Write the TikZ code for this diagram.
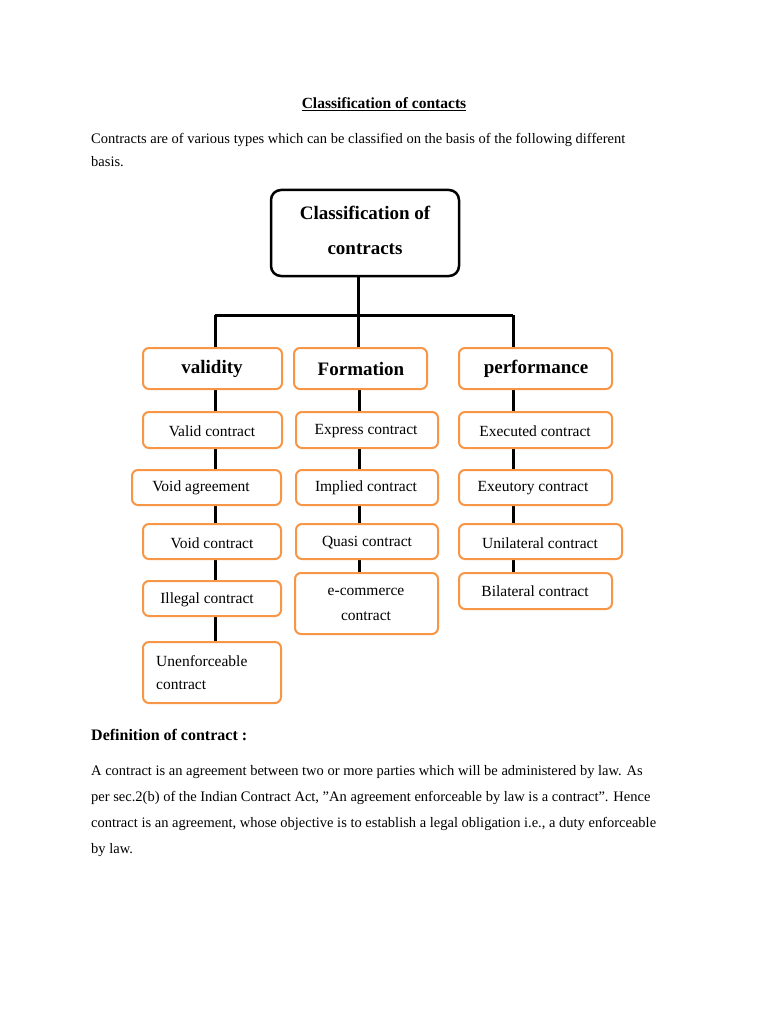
\documentclass[tikz,border=0pt]{standalone}
\usepackage{fontspec}
\setmainfont{Liberation Serif}
\begin{document}
\begin{tikzpicture}[x=1pt,y=-1pt,
  ob/.style={draw=orange!75!red!60!yellow, draw=ocol, line width=2pt, rounded corners=6pt},
  bl/.style={line width=3pt},
  txt/.style={font=\fontsize{14.5}{16}\selectfont, anchor=base west, inner sep=0},
  bt/.style={font=\fontsize{15.5}{18}\selectfont, inner sep=0}]
\definecolor{ocol}{HTML}{F79646}
\useasboundingbox (0,0) rectangle (768,1024);
\node[font=\fontsize{15.5}{18}\selectfont\bfseries, inner sep=0] (title) at (384,104) {\underline{Classification of contacts}};
\node[txt] (i1) at (91,144) {Contracts are of various types which can be classified on the basis of the following different};
\node[txt] (i2) at (91,167) {basis.};
% top
\draw[line width=2.5pt, rounded corners=10pt] (271,190) rectangle (459,276);
\node[font=\fontsize{19}{22}\selectfont\bfseries, inner sep=0] (top) at (365,213) {Classification of};
\node[font=\fontsize{19}{22}\selectfont\bfseries, inner sep=0] (top2) at (365,249) {contracts};
\coordinate (tb) at (358,276);
\coordinate (hm) at (358,315);
\coordinate (hl) at (215,315);
\coordinate (hr) at (513,315);
% connectors
\draw[bl] (tb) -- (hm);
\draw[bl] (hl) -- (hr);
\draw[bl] (hl) -- (215,348);
\draw[bl] (hm) -- (358,348);
\draw[bl] (hr) -- (513,348);
\draw[bl] (215,389) -- (215,412);
\draw[bl] (215,448) -- (215,470);
\draw[bl] (215,505) -- (215,524);
\draw[bl] (215,559) -- (215,581);
\draw[bl] (215,616) -- (215,642);
\draw[bl] (359,389) -- (359,412);
\draw[bl] (359,448) -- (359,470);
\draw[bl] (359,505) -- (359,524);
\draw[bl] (359,559) -- (359,573);
\draw[bl] (513,389) -- (513,412);
\draw[bl] (513,448) -- (513,470);
\draw[bl] (513,505) -- (513,524);
\draw[bl] (513,559) -- (513,573);
% categories
\draw[ob] (143,348) rectangle (282,389); \node[font=\fontsize{19}{22}\selectfont\bfseries,inner sep=0] (v) at (212,369) {validity};
\draw[ob] (294,348) rectangle (427,389); \node[font=\fontsize{19}{22}\selectfont\bfseries,inner sep=0] (f) at (361,369) {Formation};
\draw[ob] (459,348) rectangle (612,389); \node[font=\fontsize{19}{22}\selectfont\bfseries,inner sep=0] (p) at (536,369) {performance};
% rows
\draw[ob] (143,412) rectangle (282,448); \node[bt] (a1) at (212,431) {Valid contract};
\draw[ob] (296,412) rectangle (438,448); \node[bt] (b1) at (366,431) {Express contract};
\draw[ob] (459,412) rectangle (612,448); \node[bt] (c1) at (535,431) {Executed contract};
\draw[ob] (132,470) rectangle (281,505); \node[bt] (a2) at (201,488) {Void agreement};
\draw[ob] (296,470) rectangle (438,505); \node[bt] (b2) at (366,488) {Implied contract};
\draw[ob] (459,470) rectangle (612,505); \node[bt] (c2) at (533,488) {Exeutory contract};
\draw[ob] (143,524) rectangle (281,559); \node[bt] (a3) at (212,543) {Void contract};
\draw[ob] (296,524) rectangle (438,559); \node[bt] (b3) at (367,543) {Quasi contract};
\draw[ob] (459,524) rectangle (622,559); \node[bt] (c3) at (540,543) {Unilateral contract};
\draw[ob] (143,581) rectangle (281,616); \node[bt] (a4) at (207,600) {Illegal contract};
\draw[ob] (295,573) rectangle (438,634); \node[bt] (b4) at (366,592) {e-commerce}; \node[bt] (b4b) at (366,616) {contract};
\draw[ob] (459,573) rectangle (612,609); \node[bt] (c4) at (535,591) {Bilateral contract};
\draw[ob] (143,642) rectangle (281,703);
\node[bt, anchor=west] (a5) at (156,661) {Unenforceable}; \node[bt, anchor=west] (a5b) at (156,685) {contract};
% bottom text
\node[font=\fontsize{16}{18}\selectfont\bfseries, anchor=base west, inner sep=0] (d) at (91,740) {Definition of contract :};
\node[txt] (p1) at (91,775) {A contract is an agreement between two or more parties which will be administered by law. As};
\node[txt] (p2) at (91,801) {per sec.2(b) of the Indian Contract Act, ”An agreement enforceable by law is a contract”. Hence};
\node[txt] (p3) at (91,827) {contract is an agreement, whose objective is to establish a legal obligation i.e., a duty enforceable};
\node[txt] (p4) at (91,853) {by law.};
\end{tikzpicture}
\end{document}
